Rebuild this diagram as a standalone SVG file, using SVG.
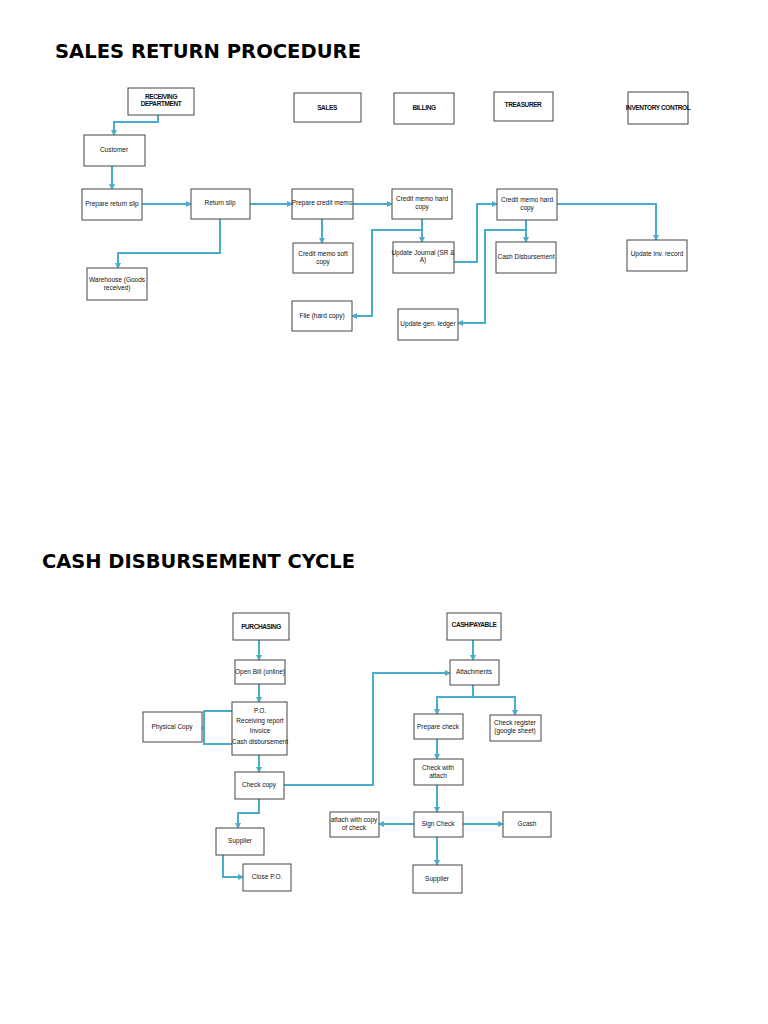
<svg xmlns="http://www.w3.org/2000/svg" width="768" height="1024" viewBox="0 0 768 1024">
<style>
.b{fill:#fff;stroke:#444;stroke-width:1}
.t{font-family:"Liberation Sans",Arial,sans-serif;font-size:6.5px;fill:#111;text-anchor:middle}
.h{font-weight:bold;letter-spacing:-0.4px}
.ti{font-family:"DejaVu Sans",sans-serif;font-weight:bold;font-size:20px;fill:#000}
.c{fill:none;stroke:#4aaccc;stroke-width:2;marker-end:url(#a)}
.n{fill:none;stroke:#4aaccc;stroke-width:2}
</style>
<defs><marker id="a" markerWidth="6" markerHeight="6" refX="5" refY="3" orient="auto" markerUnits="userSpaceOnUse"><path d="M0,0L6,3L0,6z" fill="#4aaccc"/></marker></defs>
<rect width="768" height="1024" fill="#fff"/>
<text class="ti" x="55" y="58" textLength="306" lengthAdjust="spacingAndGlyphs">SALES RETURN PROCEDURE</text>
<text class="ti" x="42" y="568" textLength="313" lengthAdjust="spacingAndGlyphs">CASH DISBURSEMENT CYCLE</text>
<g id="connectors">
<path class="c" d="M158 115V122H114V135"/>
<path class="c" d="M112 166V189"/>
<path class="c" d="M142 204H191"/>
<path class="c" d="M250 204H292"/>
<path class="c" d="M353 204H392"/>
<path class="c" d="M220 219V253H118V268"/>
<path class="c" d="M322 219V243"/>
<path class="c" d="M422 219V242"/>
<path class="c" d="M422 230H372V316H352"/>
<path class="c" d="M454 262H477V204H497"/>
<path class="c" d="M526 220V242"/>
<path class="c" d="M526 230H485V323H458"/>
<path class="c" d="M557 204H656V240"/>
<path class="c" d="M259 640V660"/>
<path class="c" d="M259 684V702"/>
<path class="n" d="M202 728H204M232 711H204V744H232"/>
<path class="c" d="M259 755V772"/>
<path class="c" d="M259 799V813H238V828"/>
<path class="c" d="M223 855V877H243"/>
<path class="c" d="M284 785H373V673H450"/>
<path class="c" d="M473 640V660"/>
<path class="c" d="M473 685V697H437V714"/>
<path class="c" d="M473 697H515V715"/>
<path class="c" d="M437 739V759"/>
<path class="c" d="M437 785V812"/>
<path class="c" d="M414 824H379"/>
<path class="c" d="M463 824H503"/>
<path class="c" d="M437 837V865"/>
</g>
<g id="recv"><rect class="b" x="128" y="88" width="66" height="27"/><text class="t h" x="161" y="99">RECEIVING</text><text class="t h" x="161" y="106">DEPARTMENT</text></g>
<g id="sales"><rect class="b" x="294" y="93" width="67" height="29"/><text class="t h" x="327" y="110">SALES</text></g>
<g id="billing"><rect class="b" x="394" y="93" width="60" height="31"/><text class="t h" x="424" y="110">BILLING</text></g>
<g id="treasurer"><rect class="b" x="494" y="92" width="59" height="29"/><text class="t h" x="523" y="107">TREASURER</text></g>
<g id="inv"><rect class="b" x="628" y="92" width="60" height="32"/><text class="t h" x="658" y="110">INVENTORY CONTROL</text></g>
<g id="customer"><rect class="b" x="84" y="135" width="61" height="31"/><text class="t" x="114" y="152">Customer</text></g>
<g id="prs"><rect class="b" x="82" y="189" width="60" height="31"/><text class="t" x="112" y="206">Prepare return slip</text></g>
<g id="rs"><rect class="b" x="191" y="189" width="59" height="30"/><text class="t" x="220" y="205">Return slip</text></g>
<g id="pcm"><rect class="b" x="292" y="189" width="61" height="30"/><text class="t" x="322" y="205">Prepare credit memo</text></g>
<g id="cmh1"><rect class="b" x="392" y="189" width="60" height="30"/><text class="t" x="422" y="201">Credit memo hard</text><text class="t" x="422" y="209">copy</text></g>
<g id="cmh2"><rect class="b" x="497" y="189" width="60" height="31"/><text class="t" x="527" y="202">Credit memo hard</text><text class="t" x="527" y="210">copy</text></g>
<g id="cms"><rect class="b" x="293" y="243" width="60" height="30"/><text class="t" x="323" y="256">Credit memo soft</text><text class="t" x="323" y="264">copy</text></g>
<g id="uj"><rect class="b" x="393" y="242" width="61" height="31"/><text class="t" x="423" y="255">Update Journal (SR &amp;</text><text class="t" x="423" y="262">A)</text></g>
<g id="cd"><rect class="b" x="496" y="242" width="60" height="31"/><text class="t" x="526" y="259">Cash Disbursement</text></g>
<g id="uir"><rect class="b" x="627" y="240" width="60" height="31"/><text class="t" x="657" y="256">Update inv. record</text></g>
<g id="wh"><rect class="b" x="87" y="268" width="60" height="32"/><text class="t" x="117" y="282">Warehouse (Goods</text><text class="t" x="117" y="290">received)</text></g>
<g id="file"><rect class="b" x="292" y="301" width="60" height="30"/><text class="t" x="322" y="318">File (hard copy)</text></g>
<g id="ugl"><rect class="b" x="398" y="309" width="60" height="31"/><text class="t" x="428" y="326">Update gen. ledger</text></g>
<g id="purch"><rect class="b" x="233" y="613" width="56" height="27"/><text class="t h" x="261" y="629">PURCHASING</text></g>
<g id="ob"><rect class="b" x="235" y="660" width="50" height="24"/><text class="t" x="260" y="674">Open Bill (online)</text></g>
<g id="po"><rect class="b" x="232" y="702" width="55" height="53"/><text class="t" x="260" y="713">P.O.</text><text class="t" x="260" y="723">Receiving report</text><text class="t" x="260" y="733">Invoice</text><text class="t" x="260" y="744">Cash disbursement</text></g>
<g id="pc"><rect class="b" x="143" y="712" width="59" height="30"/><text class="t" x="172" y="729">Physical Copy</text></g>
<g id="cc"><rect class="b" x="235" y="772" width="49" height="27"/><text class="t" x="259" y="787">Check copy</text></g>
<g id="sup1"><rect class="b" x="216" y="828" width="48" height="27"/><text class="t" x="240" y="843">Supplier</text></g>
<g id="cpo"><rect class="b" x="243" y="864" width="48" height="27"/><text class="t" x="267" y="879">Close P.O.</text></g>
<g id="cp"><rect class="b" x="447" y="613" width="54" height="27"/><text class="t h" x="474" y="627">CASH/PAYABLE</text></g>
<g id="att"><rect class="b" x="450" y="660" width="49" height="25"/><text class="t" x="474" y="674">Attachments</text></g>
<g id="prc"><rect class="b" x="414" y="714" width="49" height="25"/><text class="t" x="438" y="729">Prepare check</text></g>
<g id="creg"><rect class="b" x="490" y="715" width="51" height="26"/><text class="t" x="515" y="725">Check register</text><text class="t" x="515" y="733">(google sheet)</text></g>
<g id="cwa"><rect class="b" x="414" y="759" width="49" height="26"/><text class="t" x="438" y="770">Check with</text><text class="t" x="438" y="778">attach</text></g>
<g id="sc"><rect class="b" x="414" y="812" width="49" height="25"/><text class="t" x="438" y="826">Sign Check</text></g>
<g id="awc"><rect class="b" x="330" y="812" width="49" height="25"/><text class="t" x="354" y="822">attach with copy</text><text class="t" x="354" y="830">of check</text></g>
<g id="gcash"><rect class="b" x="503" y="812" width="48" height="25"/><text class="t" x="527" y="826">Gcash</text></g>
<g id="sup2"><rect class="b" x="413" y="865" width="49" height="28"/><text class="t" x="437" y="881">Supplier</text></g>
</svg>
